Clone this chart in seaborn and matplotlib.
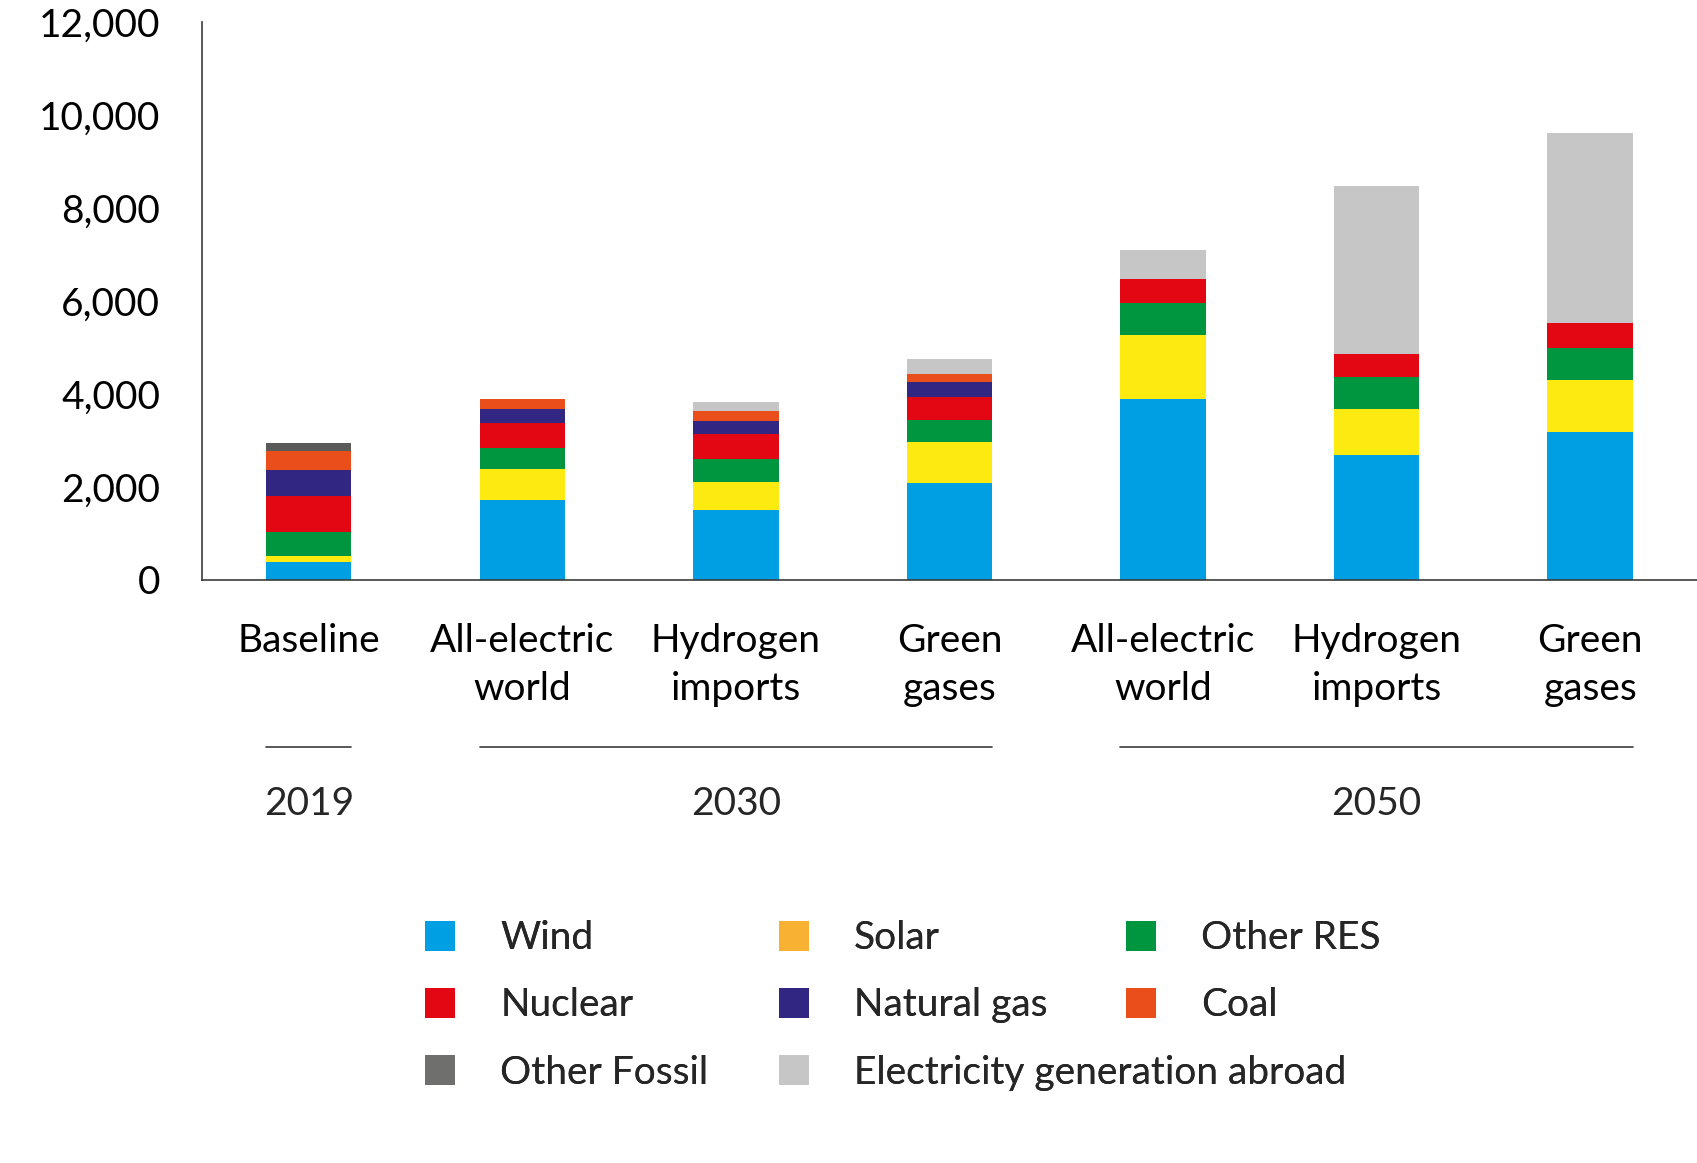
import numpy as np
import pandas as pd
import matplotlib
matplotlib.use("Agg")
import matplotlib.pyplot as plt
import matplotlib.transforms as mtransforms
from matplotlib.patches import Patch
import seaborn as sns

# Electricity generation by source per scenario
scenarios = ["Baseline", "All-electric\nworld", "Hydrogen\nimports", "Green\ngases",
             "All-electric\nworld", "Hydrogen\nimports", "Green\ngases"]
years = ["2019", "2030", "2030", "2030", "2050", "2050", "2050"]

wind = [390, 1720, 1500, 2090, 3890, 2690, 3190]
solar = [120, 665, 600, 875, 1370, 975, 1105]
other_res = [515, 460, 495, 470, 700, 690, 700]
nuclear = [775, 525, 550, 495, 510, 510, 525]
natural_gas = [560, 300, 270, 330, 0, 0, 0]
coal = [415, 215, 210, 170, 0, 0, 0]
other_fossil = [170, 0, 0, 0, 0, 0, 0]
abroad = [0, 0, 195, 320, 615, 3610, 4095]

sources = ["Wind", "Solar", "Other RES", "Nuclear", "Natural gas", "Coal",
           "Other Fossil", "Electricity generation abroad"]
bar_colors = ["#009FE3", "#FCEA10", "#009640", "#E30613", "#312783", "#E94E1B",
              "#5A5A59", "#C6C6C6"]
legend_colors = ["#009FE3", "#F8B133", "#009640", "#E30613", "#312783", "#E94E1B",
                 "#6F6F6E", "#C6C6C6"]

values = pd.DataFrame(
    np.array([wind, solar, other_res, nuclear, natural_gas, coal, other_fossil, abroad]).T,
    columns=sources)
values["id"] = range(len(scenarios))
cum = values[sources].cumsum(axis=1)
cum["id"] = values["id"]

sns.set_style("white")
plt.rcParams["font.family"] = ["Lato", "DejaVu Sans"]
plt.rcParams["font.size"] = 28

fig = plt.figure(figsize=(16.97, 11.63), dpi=100)
ax = fig.add_axes([0.119, 0.5013, 0.881, 0.480])

# stacked bars: draw cumulative tops from the highest layer down
for src, col in zip(reversed(sources), reversed(bar_colors)):
    sns.barplot(data=cum, x="id", y=src, color=col, saturation=1, width=0.4,
                errorbar=None, linewidth=0, ax=ax)

ax.set_xlim(-0.5, 6.5)
ax.set_ylim(0, 12000)
ax.set_yticks(range(0, 12001, 2000))
ax.set_yticklabels([f"{v:,}" for v in range(0, 12001, 2000)])
ax.set_xticks(range(len(scenarios)))
ax.set_xticklabels(scenarios, linespacing=1.42)
ax.set_xlabel("")
ax.set_ylabel("")
ax.tick_params(axis="both", length=0, labelsize=28, colors="black")
ax.tick_params(axis="y", pad=30)
ax.tick_params(axis="x", pad=31)
for s in ["top", "right"]:
    ax.spines[s].set_visible(False)
for s in ["left", "bottom"]:
    ax.spines[s].set_color("#3C3C3B")
    ax.spines[s].set_linewidth(1.2)

# year grouping lines and labels
trans = mtransforms.blended_transform_factory(ax.transData, ax.transAxes)
for yr in sorted(set(years)):
    idx = [i for i, y in enumerate(years) if y == yr]
    ax.plot([min(idx) - 0.2, max(idx) + 0.2], [-0.299, -0.299], transform=trans,
            color="#3C3C3B", lw=1.2, clip_on=False)
    ax.text(np.mean(idx), -0.402, yr, transform=trans, ha="center", va="center",
            fontsize=28)

# legend laid out as three columns
handles = [Patch(facecolor=c, edgecolor="none", label=s)
           for s, c in zip(sources, legend_colors)]
columns = [[0, 3, 6], [1, 4, 7], [2, 5]]
col_x = [425 / 1697, 779 / 1697, 1126 / 1697]
for cols, x in zip(columns, col_x):
    leg = fig.legend(handles=[handles[i] for i in cols], loc="upper left",
                     bbox_to_anchor=(x, 0.2087), frameon=False, fontsize=28,
                     handlelength=0.78, handleheight=0.8, handletextpad=1.15,
                     labelspacing=0.8, borderpad=0, borderaxespad=0)
    fig.add_artist(leg)

fig.savefig("out.png", dpi=100)
